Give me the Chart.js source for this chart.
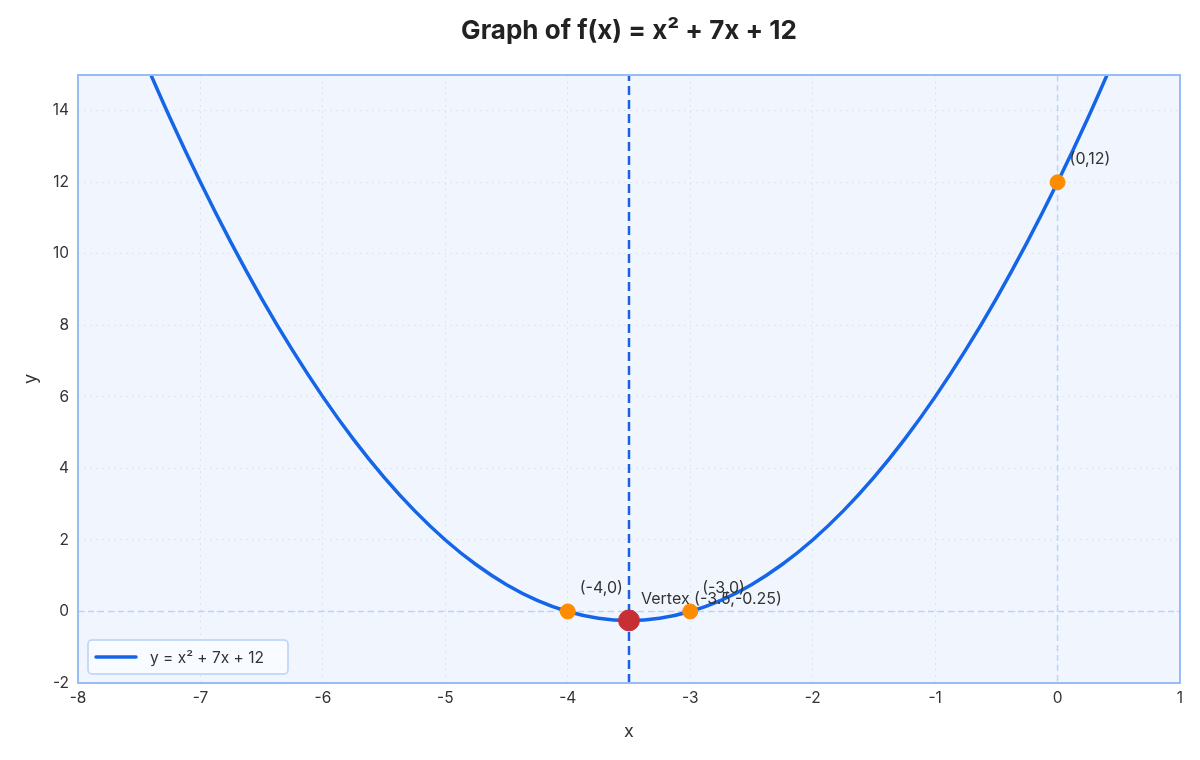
<!DOCTYPE html>
<html><head><meta charset="utf-8">
<script src="https://cdn.jsdelivr.net/npm/chart.js@4.4.1/dist/chart.umd.min.js"></script>
<style>html,body{margin:0;padding:0;background:#fff;}#wrap{width:1200px;height:760px;}</style>
</head><body><div id="wrap"><canvas id="c" width="1200" height="760"></canvas></div>
<script>
const titleText = 'Graph of f(x) = x\u00b2 + 7x + 12';
const seriesLabel = 'y = x\u00b2 + 7x + 12';
const curveX = [-7.5,-7.25,-7,-6.75,-6.5,-6.25,-6,-5.75,-5.5,-5.25,-5,-4.75,-4.5,-4.25,-4,-3.75,-3.5,-3.25,-3,-2.75,-2.5,-2.25,-2,-1.75,-1.5,-1.25,-1,-0.75,-0.5,-0.25,0,0.25,0.5];
const curveY = [15.75,13.8125,12,10.3125,8.75,7.3125,6,4.8125,3.75,2.8125,2,1.3125,0.75,0.3125,0,-0.1875,-0.25,-0.1875,0,0.3125,0.75,1.3125,2,2.8125,3.75,4.8125,6,7.3125,8.75,10.3125,12,13.8125,15.75];
const keyX = [-4,-3,0];
const keyY = [0,0,12];
const keyLabels = ['(-4,0)','(-3,0)','(0,12)'];
const vertexX = [-3.5];
const vertexY = [-0.25];
const vertexLabels = ['Vertex (-3.5,-0.25)'];
const axisLineX = [-3.5,-3.5];
const axisLineY = [-2,15];
const xTicks = [-8,-7,-6,-5,-4,-3,-2,-1,0,1];
const yTicks = [-2,0,2,4,6,8,10,12,14];
const xRange = [-8,1];
const yRange = [-2,15];

const FONT = 'Inter, "Noto Sans", sans-serif';
const zip = (xs,ys)=>xs.map((x,i)=>({x:x,y:ys[i]}));

const decor = {
  id:'decor',
  beforeDraw(chart){
    const {ctx, chartArea:a} = chart;
    ctx.save();
    ctx.fillStyle = '#f1f6fe';
    ctx.fillRect(a.left,a.top,a.right-a.left,a.bottom-a.top);
    ctx.restore();
  },
  beforeDatasetsDraw(chart){
    const {ctx, chartArea:a, scales:{x,y}} = chart;
    ctx.save();
    ctx.strokeStyle = '#bcd3f9';
    ctx.lineWidth = 1.5;
    ctx.setLineDash([6,4]);
    const y0 = y.getPixelForValue(0), x0 = x.getPixelForValue(0);
    ctx.beginPath(); ctx.moveTo(a.left,y0); ctx.lineTo(a.right,y0); ctx.stroke();
    ctx.beginPath(); ctx.moveTo(x0,a.top); ctx.lineTo(x0,a.bottom); ctx.stroke();
    ctx.restore();
  },
  afterDraw(chart){
    const {ctx, chartArea:a, scales:{x,y}} = chart;
    ctx.save();
    ctx.strokeStyle = '#98bcf5';
    ctx.lineWidth = 2;
    ctx.strokeRect(a.left,a.top,a.right-a.left,a.bottom-a.top);
    ctx.fillStyle = '#222';
    ctx.font = 'bold 26px ' + FONT;
    ctx.textAlign = 'center'; ctx.textBaseline = 'middle';
    ctx.fillText(titleText, 629, 31);
    ctx.font = '16px ' + FONT;
    ctx.textAlign = 'left';
    ctx.fillStyle = '#333';
    keyX.forEach((v,i)=>{
      ctx.fillText(keyLabels[i], x.getPixelForValue(v)+12, y.getPixelForValue(keyY[i])-23);
    });
    vertexX.forEach((v,i)=>{
      ctx.fillText(vertexLabels[i], x.getPixelForValue(v)+12, y.getPixelForValue(vertexY[i])-21);
    });
    const lx = a.left+10, ly = a.bottom-43, lw = 200, lh = 34;
    ctx.fillStyle = 'rgba(248,251,255,0.95)';
    ctx.strokeStyle = '#b7cff7';
    ctx.lineWidth = 1.5;
    ctx.beginPath();
    if (ctx.roundRect) ctx.roundRect(lx,ly,lw,lh,4); else ctx.rect(lx,ly,lw,lh);
    ctx.fill(); ctx.stroke();
    ctx.strokeStyle = '#1565e8'; ctx.lineWidth = 3.5; ctx.lineCap='round';
    ctx.beginPath(); ctx.moveTo(lx+8,ly+lh/2); ctx.lineTo(lx+48,ly+lh/2); ctx.stroke();
    ctx.fillStyle = '#333'; ctx.font = '15.5px ' + FONT; ctx.textBaseline='middle';
    ctx.fillText(seriesLabel, lx+62, ly+lh/2+1);
    ctx.restore();
  }
};

new Chart(document.getElementById('c'), {
  type:'scatter',
  plugins:[decor],
  data:{datasets:[
    {label:seriesLabel, data:zip(curveX,curveY), showLine:true, borderColor:'#1565e8', borderWidth:3.5, pointRadius:0, cubicInterpolationMode:'monotone', order:3},
    {label:'axis', data:zip(axisLineX,axisLineY), showLine:true, borderColor:'#1a5fe8', borderWidth:2.5, borderDash:[9,5], pointRadius:0, order:2},
    {label:'keys', data:zip(keyX,keyY), backgroundColor:'#ff8c00', borderColor:'#ff8c00', pointRadius:7.5, order:1},
    {label:'vertex', data:zip(vertexX,vertexY), backgroundColor:'#c62f34', borderColor:'#c62f34', pointRadius:10.5, order:0}
  ]},
  options:{
    responsive:false, animation:false, devicePixelRatio:1,
    layout:{padding:{top:75,right:20,left:0,bottom:0}},
    plugins:{legend:{display:false}, title:{display:false}, tooltip:{enabled:false}},
    scales:{
      x:{type:'linear', min:xRange[0], max:xRange[1],
        afterBuildTicks(s){ s.ticks = xTicks.map(v=>({value:v})); },
        afterFit(s){ s.height = 77; },
        grid:{color:'#dfe5ee', lineWidth:1, drawTicks:false},
        border:{display:false, dash:[2,4]},
        ticks:{color:'#333', font:{family:FONT,size:15.5}, padding:6},
        title:{display:true, text:'x', color:'#333', font:{family:FONT,size:18}, padding:{top:0,bottom:18}}
      },
      y:{type:'linear', min:yRange[0], max:yRange[1],
        afterBuildTicks(s){ s.ticks = yTicks.map(v=>({value:v})); },
        afterFit(s){ s.width = 78; },
        grid:{color:'#dfe5ee', lineWidth:1, drawTicks:false},
        border:{display:false, dash:[2,4]},
        ticks:{color:'#333', font:{family:FONT,size:15.5}, padding:9},
        title:{display:true, text:'y', color:'#333', font:{family:FONT,size:18}, padding:{bottom:0,top:20}}
      }
    }
  }
});
</script></body></html>
